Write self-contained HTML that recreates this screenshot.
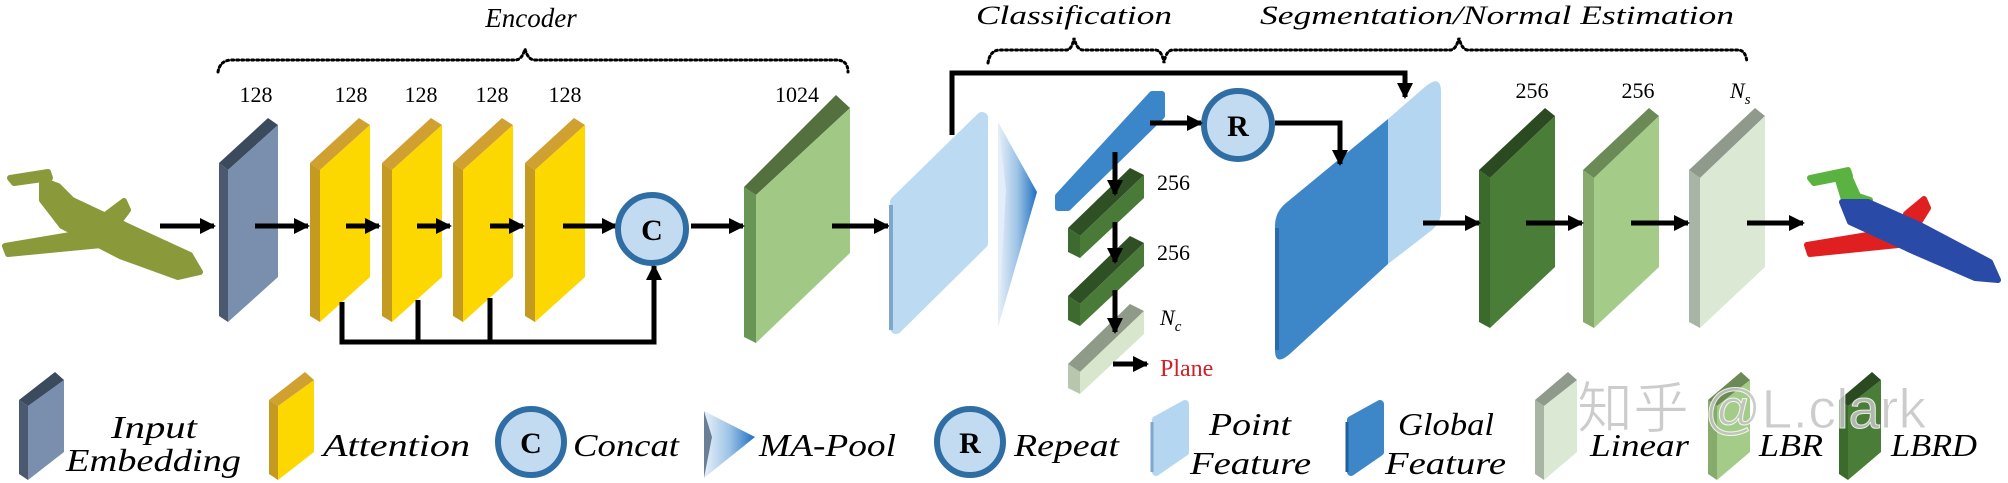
<!DOCTYPE html>
<html><head><meta charset="utf-8"><style>
html,body{margin:0;padding:0;background:#fff}
svg{display:block}
text{font-family:"Liberation Serif","Noto Serif CJK SC",serif}
.it{font-style:italic}
</style></head><body>
<svg width="2008" height="483" viewBox="0 0 2008 483" xmlns="http://www.w3.org/2000/svg">
<defs>
<marker id="ah" markerUnits="userSpaceOnUse" markerWidth="18" markerHeight="18" refX="14" refY="8" orient="auto"><path d="M0,0 L16,8 L0,16 Z" fill="#000"/></marker>
<linearGradient id="ma" x1="0" y1="0" x2="1" y2="0"><stop offset="0" stop-color="#e8f0f8"/><stop offset="0.5" stop-color="#9cc3e6"/><stop offset="1" stop-color="#1f6fc0"/></linearGradient>
</defs>

<!-- braces -->
<g fill="none" stroke="#000" stroke-width="3" stroke-dasharray="2 3" stroke-linecap="round">
<path d="M218,72 Q220,60 232,60 H515 Q522,60 525,49 Q528,60 535,60 H836 Q848,60 848,72"/>
<path d="M988,63 Q990,50 1000,50 H1066 Q1072,50 1074,38 Q1077,50 1083,50 H1155 Q1162,50 1164,63 Q1166,50 1173,50 H1450 Q1456,50 1459,38 Q1462,50 1468,50 H1738 Q1746,50 1747,63"/>
</g>
<text class="it" x="531" y="27" font-size="27" text-anchor="middle">Encoder</text>
<text class="it" x="1074" y="24" font-size="26" textLength="196" lengthAdjust="spacingAndGlyphs" text-anchor="middle">Classification</text>
<text class="it" x="1260" y="24" font-size="26" textLength="474" lengthAdjust="spacingAndGlyphs">Segmentation/Normal Estimation</text>

<!-- numbers -->
<g font-size="22" text-anchor="middle">
<text x="256" y="102">128</text><text x="351" y="102">128</text><text x="421" y="102">128</text><text x="492" y="102">128</text><text x="565" y="102">128</text>
<text x="797" y="102">1024</text>
<text x="1532" y="98">256</text><text x="1638" y="98">256</text>
</g>
<text class="it" x="1730" y="98" font-size="22">N<tspan font-size="15" dy="6">s</tspan></text>
<g font-size="22"><text x="1157" y="190">256</text><text x="1157" y="260">256</text></g>
<text class="it" x="1160" y="325" font-size="22">N<tspan font-size="15" dy="6">c</tspan></text>
<text x="1160" y="376" font-size="24" fill="#d0202a">Plane</text>

<!-- input plane -->
<g fill="#8a9a3a" stroke="#8a9a3a" stroke-width="6" stroke-linejoin="round">
<polygon points="10,178 48,172 50,178 14,183"/>
<polygon points="42,180 58,186 72,200 140,232 190,255 200,272 178,277 120,256 62,226 42,200"/>
<polygon points="5,246 100,230 112,244 8,254"/>
<polygon points="104,216 124,201 128,210 116,226"/>
</g>
<!-- output plane -->
<g stroke-width="6" stroke-linejoin="round">
<polygon points="1810,178 1848,170 1850,176 1814,183" fill="#5ab340" stroke="#5ab340"/>
<polygon points="1838,180 1850,178 1858,196 1870,200 1845,203" fill="#5ab340" stroke="#5ab340"/>
<polygon points="1807,245 1898,230 1908,244 1810,254" fill="#e02020" stroke="#e02020"/>
<polygon points="1906,214 1924,199 1928,208 1918,224" fill="#e02020" stroke="#e02020"/>
<polygon points="1842,202 1868,202 1920,225 1990,262 1998,280 1975,278 1915,252 1850,222" fill="#2a4aa8" stroke="#2a4aa8"/>
</g>

<!-- encoder slabs -->
<g>
<polygon points="219,163 228,170 228,322 219,316" fill="#4a5870"/>
<polygon points="219,163 268,118 278,125 228,170" fill="#3c4a5e"/>
<polygon points="228,170 278,125 278,277 228,322" fill="#7a8fad"/>
</g>
<g id="att">
<polygon points="310,163 320,170 320,322 310,316" fill="#c49a20"/>
<polygon points="310,163 359,118 370,125 320,170" fill="#d0a030"/>
<polygon points="320,170 370,125 370,277 320,322" fill="#fdd800"/>
</g>
<use href="#att" x="72"/><use href="#att" x="143"/><use href="#att" x="215"/>

<polygon points="744,187 756,195 756,343 744,337" fill="#6a9655"/>
<polygon points="744,187 836,95 850,108 756,195" fill="#55703f"/>
<polygon points="756,195 850,108 850,253 756,343" fill="#a1c985"/>

<!-- connectors encoder -->
<g stroke="#000" stroke-width="5" fill="none">
<line x1="160" y1="226" x2="214" y2="226" marker-end="url(#ah)"/>
<line x1="255" y1="226" x2="308" y2="226" marker-end="url(#ah)"/>
<line x1="346" y1="226" x2="379" y2="226" marker-end="url(#ah)"/>
<line x1="417" y1="226" x2="450" y2="226" marker-end="url(#ah)"/>
<line x1="490" y1="226" x2="523" y2="226" marker-end="url(#ah)"/>
<line x1="563" y1="226" x2="616" y2="226" marker-end="url(#ah)"/>
<line x1="691" y1="226" x2="743" y2="226" marker-end="url(#ah)"/>
<line x1="832" y1="226" x2="888" y2="226" marker-end="url(#ah)"/>
<path d="M342,302 V342 H654 V266" marker-end="url(#ah)"/>
<path d="M418,300 V342 M490,298 V342"/>
</g>
<circle cx="652" cy="229" r="34" fill="#c3dbf0" stroke="#2f6ea5" stroke-width="6"/>
<text x="652" y="240" font-size="30" font-weight="bold" text-anchor="middle">C</text>

<!-- point feature + mapool -->
<polygon points="896,202 982,118 982,243 896,328" fill="#bcdaf2" stroke="#bcdaf2" stroke-width="12" stroke-linejoin="round"/>
<path d="M891,205 L891,330" stroke="#7fa6cc" stroke-width="4"/>
<polygon points="998,122 1037,192 998,327" fill="url(#ma)"/>
<polygon points="998,122 1006,190 998,327" fill="#e4eef8"/>

<!-- global bar -->
<polygon points="1058,196 1152,94 1162,94 1162,116 1068,208 1058,208" fill="#3a86c8" stroke="#3a86c8" stroke-width="6" stroke-linejoin="round"/>
<!-- small green blocks -->
<g id="gb">
<polygon points="1068,228 1130,168 1144,175 1080,236" fill="#2f4f25"/>
<polygon points="1080,236 1144,175 1144,198 1080,258" fill="#4a7a37"/>
<polygon points="1068,228 1080,236 1080,258 1068,252" fill="#3d6a2e"/>
</g>
<use href="#gb" y="68"/>
<g transform="translate(0,136)">
<polygon points="1068,228 1130,168 1144,175 1080,236" fill="#8f9a88"/>
<polygon points="1080,236 1144,175 1144,198 1080,258" fill="#d7e6cc"/>
<polygon points="1068,228 1080,236 1080,258 1068,252" fill="#b8c6ae"/>
</g>

<circle cx="1238" cy="125" r="34" fill="#c3dbf0" stroke="#2f6ea5" stroke-width="6"/>
<text x="1238" y="136" font-size="30" font-weight="bold" text-anchor="middle">R</text>

<!-- combined block -->
<path d="M1275,226 Q1275,212 1286,203 L1388,119 L1388,264 L1292,352 Q1275,368 1275,350 Z" fill="#3d87c9"/>
<path d="M1388,119 L1426,86 Q1441,74 1441,92 L1441,212 Q1441,222 1432,230 L1388,264 Z" fill="#b5d6f0"/>
<path d="M1277,228 L1277,350" stroke="#2a6aa8" stroke-width="4"/>

<!-- right slabs -->
<g id="lbrd">
<polygon points="1479,170 1490,178 1490,328 1479,322" fill="#3b6a2c"/>
<polygon points="1479,170 1545,108 1555,116 1490,178" fill="#2c4a22"/>
<polygon points="1490,178 1555,116 1555,267 1490,328" fill="#4a7d37"/>
</g>
<g transform="translate(104,0)">
<polygon points="1479,170 1490,178 1490,328 1479,322" fill="#86ab6c"/>
<polygon points="1479,170 1545,108 1555,116 1490,178" fill="#6b8a55"/>
<polygon points="1490,178 1555,116 1555,267 1490,328" fill="#a4cc88"/>
</g>
<g transform="translate(210,0)">
<polygon points="1479,170 1490,178 1490,328 1479,322" fill="#a9b5a4"/>
<polygon points="1479,170 1545,108 1555,116 1490,178" fill="#8f9a8c"/>
<polygon points="1490,178 1555,116 1555,267 1490,328" fill="#dbe8d3"/>
</g>

<!-- connectors right -->
<g stroke="#000" stroke-width="5" fill="none">
<path d="M952,135 V73 H1405 V97" marker-end="url(#ah)"/>
<line x1="1150" y1="123" x2="1201" y2="123" marker-end="url(#ah)"/>
<path d="M1275,123 H1340 V164" marker-end="url(#ah)"/>
<line x1="1115" y1="152" x2="1115" y2="194" marker-end="url(#ah)"/>
<line x1="1115" y1="222" x2="1115" y2="262" marker-end="url(#ah)"/>
<line x1="1115" y1="290" x2="1115" y2="332" marker-end="url(#ah)"/>
<line x1="1113" y1="364" x2="1147" y2="364" marker-end="url(#ah)"/>
<line x1="1423" y1="223" x2="1479" y2="223" marker-end="url(#ah)"/>
<line x1="1526" y1="223" x2="1582" y2="223" marker-end="url(#ah)"/>
<line x1="1631" y1="223" x2="1688" y2="223" marker-end="url(#ah)"/>
<line x1="1747" y1="223" x2="1803" y2="223" marker-end="url(#ah)"/>
</g>

<!-- legend -->
<g>
<polygon points="19,400 28,406 28,480 19,474" fill="#4a5870"/>
<polygon points="28,406 64,380 64,452 28,480" fill="#7a8fad"/>
<polygon points="19,400 55,372 64,380 28,406" fill="#3c4a5e"/>
</g>
<g>
<polygon points="269,400 278,406 278,480 269,474" fill="#c49a20"/>
<polygon points="278,406 314,380 314,452 278,480" fill="#fdd800"/>
<polygon points="269,400 305,372 314,380 278,406" fill="#d0a030"/>
</g>
<circle cx="531" cy="442" r="33" fill="#c3dbf0" stroke="#2f6ea5" stroke-width="6"/>
<text x="531" y="453" font-size="30" font-weight="bold" text-anchor="middle">C</text>
<polygon points="704,411 755,437 704,478" fill="url(#ma)"/>
<polygon points="704,411 712,437 704,478" fill="#6a7f96"/>
<circle cx="970" cy="442" r="33" fill="#c3dbf0" stroke="#2f6ea5" stroke-width="6"/>
<text x="970" y="453" font-size="30" font-weight="bold" text-anchor="middle">R</text>
<polygon points="1156,420 1185,404 1185,452 1156,472" fill="#b5d6f0" stroke="#b5d6f0" stroke-width="8" stroke-linejoin="round"/>
<path d="M1152,422 V472" stroke="#7fa6cc" stroke-width="3"/>
<polygon points="1351,420 1380,404 1380,452 1351,472" fill="#3d87c9" stroke="#3d87c9" stroke-width="8" stroke-linejoin="round"/>
<path d="M1347,422 V472" stroke="#1f5f9c" stroke-width="3"/>
<g>
<polygon points="1535,400 1544,406 1544,480 1535,474" fill="#a9b5a4"/>
<polygon points="1544,406 1577,380 1577,452 1544,480" fill="#dbe8d3"/>
<polygon points="1535,400 1568,372 1577,380 1544,406" fill="#8f9a8c"/>
</g>
<g transform="translate(173,0)">
<polygon points="1535,400 1544,406 1544,480 1535,474" fill="#86ab6c"/>
<polygon points="1544,406 1577,380 1577,452 1544,480" fill="#a4cc88"/>
<polygon points="1535,400 1568,372 1577,380 1544,406" fill="#6b8a55"/>
</g>
<g transform="translate(304,0)">
<polygon points="1535,400 1544,406 1544,480 1535,474" fill="#3b6a2c"/>
<polygon points="1544,406 1577,380 1577,452 1544,480" fill="#4a7d37"/>
<polygon points="1535,400 1568,372 1577,380 1544,406" fill="#2c4a22"/>
</g>

<!-- watermark -->
<text x="1577" y="428" font-size="56" fill="#c4c4c4" stroke="#ffffff" stroke-width="1" opacity="0.85" style="font-family:'Liberation Sans','Noto Sans CJK SC',sans-serif">知乎 @L.clark</text>

<g font-size="32">
<text class="it" x="154" y="438" text-anchor="middle" textLength="86" lengthAdjust="spacingAndGlyphs">Input</text>
<text class="it" x="66" y="471" textLength="175" lengthAdjust="spacingAndGlyphs">Embedding</text>
<text class="it" x="323" y="456" textLength="147" lengthAdjust="spacingAndGlyphs">Attention</text>
<text class="it" x="573" y="456" textLength="106" lengthAdjust="spacingAndGlyphs">Concat</text>
<text class="it" x="759" y="456" textLength="137" lengthAdjust="spacingAndGlyphs">MA-Pool</text>
<text class="it" x="1014" y="456" textLength="105" lengthAdjust="spacingAndGlyphs">Repeat</text>
<text class="it" x="1250" y="435" text-anchor="middle" textLength="82" lengthAdjust="spacingAndGlyphs">Point</text>
<text class="it" x="1190" y="474" textLength="121" lengthAdjust="spacingAndGlyphs">Feature</text>
<text class="it" x="1446" y="435" text-anchor="middle" textLength="96" lengthAdjust="spacingAndGlyphs">Global</text>
<text class="it" x="1385" y="474" textLength="121" lengthAdjust="spacingAndGlyphs">Feature</text>
<text class="it" x="1590" y="456" textLength="99" lengthAdjust="spacingAndGlyphs">Linear</text>
<text class="it" x="1759" y="456" textLength="64" lengthAdjust="spacingAndGlyphs">LBR</text>
<text class="it" x="1891" y="456" textLength="86" lengthAdjust="spacingAndGlyphs">LBRD</text>
</g>
</svg>
</body></html>
